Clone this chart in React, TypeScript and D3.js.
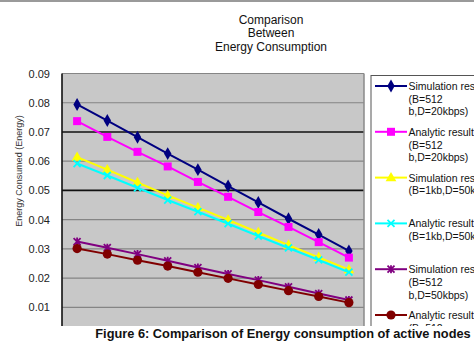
import React from "react";
import * as d3 from "d3";

const categories = ["1", "2", "3", "4", "5", "6", "7", "8", "9", "10"];
const simB512D20 = [0.0794, 0.0739, 0.0682, 0.0626, 0.0571, 0.0515, 0.0459, 0.0403, 0.0349, 0.0293];
const anaB512D20 = [0.0737, 0.0683, 0.0632, 0.0582, 0.0529, 0.0478, 0.0426, 0.0375, 0.0323, 0.027];
const simB1kD50 = [0.0614, 0.0571, 0.0527, 0.0483, 0.0441, 0.0399, 0.0356, 0.0313, 0.0271, 0.0229];
const anaB1kD50 = [0.0592, 0.0551, 0.0509, 0.0467, 0.0427, 0.0386, 0.0344, 0.0303, 0.0262, 0.022];
const simB512D50 = [0.0325, 0.0304, 0.0282, 0.0259, 0.0236, 0.0214, 0.0193, 0.017, 0.0147, 0.0125];
const anaB512D50 = [0.0301, 0.0282, 0.0261, 0.0241, 0.022, 0.0199, 0.0178, 0.0157, 0.0137, 0.0116];
const yTicks = [0.01, 0.02, 0.03, 0.04, 0.05, 0.06, 0.07, 0.08, 0.09];
const darkGrid = [0.05, 0.07];
const titleLines = ["Comparison", "Between", "Energy Consumption"];
const yLabel = "Energy Consumed (Energy)";
const caption = "Figure 6: Comparison of Energy consumption of active nodes";

const series = [
  { values: simB512D20, color: "#000080", marker: "diamond", label: ["Simulation result", "(B=512", "b,D=20kbps)"] },
  { values: anaB512D20, color: "#ff00ff", marker: "square", label: ["Analytic result", "(B=512", "b,D=20kbps)"] },
  { values: simB1kD50, color: "#ffff00", marker: "triangle", label: ["Simulation result", "(B=1kb,D=50kbps)"] },
  { values: anaB1kD50, color: "#00ffff", marker: "x", label: ["Analytic result", "(B=1kb,D=50kbps)"] },
  { values: simB512D50, color: "#800080", marker: "star", label: ["Simulation result", "(B=512", "b,D=50kbps)"] },
  { values: anaB512D50, color: "#800000", marker: "circle", label: ["Analytic result", "(B=512", "b,D=50kbps)"] },
];

const L = 62, R = 364, T = 73.5, B = 326;
const FONT = "Arial, 'Liberation Sans', sans-serif";

function Marker({ type, color, x, y }: { type: string; color: string; x: number; y: number }) {
  if (type === "diamond") return <path d={d3.symbol(d3.symbolDiamond, 48)()!} transform={`translate(${x},${y})`} fill={color} />;
  if (type === "square") return <path d={d3.symbol(d3.symbolSquare, 64)()!} transform={`translate(${x},${y})`} fill={color} />;
  if (type === "triangle") return <path d={d3.symbol(d3.symbolTriangle, 50)()!} transform={`translate(${x},${y + 0.5})`} fill={color} />;
  if (type === "circle") return <circle cx={x} cy={y} r={4.6} fill={color} />;
  const s = 3.5;
  if (type === "x")
    return (
      <path d={`M${x - s},${y - s}L${x + s},${y + s}M${x - s},${y + s}L${x + s},${y - s}`} stroke={color} strokeWidth={1.8} />
    );
  return (
    <path
      d={`M${x - s},${y - s}L${x + s},${y + s}M${x - s},${y + s}L${x + s},${y - s}M${x},${y - s - 0.5}L${x},${y + s + 0.5}`}
      stroke={color}
      strokeWidth={1.8}
    />
  );
}

export default function App() {
  const x = d3.scaleBand().domain(categories).range([L, R]);
  const y = d3.scaleLinear().domain([0.01, 0.09]).range([307.3, T]);
  const line = d3
    .line<number>()
    .x((_, i) => x(categories[i])! + x.bandwidth() / 2)
    .y((v) => y(v));

  const legX = 371, legY = 75.5, legStep = 45.8, legFirst = 86;

  return (
    <svg width={474} height={348} style={{ position: "fixed", left: 0, top: 0, background: "#fff" }} fontFamily={FONT}>
      <defs>
        <clipPath id="legclip">
          <rect x={0} y={0} width={474} height={B} />
        </clipPath>
      </defs>
      <rect x={0} y={0} width={474} height={348} fill="#fff" />
      <rect x={0} y={0} width={474} height={2} fill="#9a9a9a" />
      {titleLines.map((t, i) => (
        <text key={t} x={271} y={24 + i * 13.3} fontSize={12} textAnchor="middle" fill="#111">
          {t}
        </text>
      ))}
      <rect x={L} y={T} width={R - L} height={B - T + 5} fill="#c8c8c8" />
      {yTicks.map((t) => (
        <line
          key={t}
          x1={L}
          x2={R}
          y1={y(t)}
          y2={y(t)}
          stroke={darkGrid.includes(t) ? "#111" : "#858585"}
          strokeWidth={darkGrid.includes(t) ? 1.6 : 1.2}
        />
      ))}
      <line x1={R} x2={R} y1={T} y2={B + 5} stroke="#8a8a8a" strokeWidth={1.5} />
      <line x1={L} x2={L} y1={T} y2={B + 5} stroke="#111" strokeWidth={1.6} />
      {yTicks.map((t) => (
        <text key={"l" + t} x={50} y={y(t) + 4} fontSize={11} textAnchor="end" fill="#222">
          {t.toFixed(2)}
        </text>
      ))}
      <text transform={`translate(22,171) rotate(-90)`} fontSize={9} textAnchor="middle" fill="#333">
        {yLabel}
      </text>
      {series.map((s, si) => (
        <g key={si}>
          <path d={line(s.values)!} fill="none" stroke={s.color} strokeWidth={2} />
          {s.values.map((v, i) => (
            <Marker key={i} type={s.marker} color={s.color} x={x(categories[i])! + x.bandwidth() / 2} y={y(v)} />
          ))}
        </g>
      ))}
      <g clipPath="url(#legclip)">
        <rect x={legX} y={legY} width={120} height={280} fill="#fff" stroke="#555" strokeWidth={1} />
        {series.map((s, si) => {
          const cy = legFirst + si * legStep;
          return (
            <g key={"leg" + si}>
              <line x1={375} x2={407} y1={cy} y2={cy} stroke={s.color} strokeWidth={2} />
              <Marker type={s.marker} color={s.color} x={391} y={cy} />
              {s.label.map((t, j) => (
                <text key={j} x={408.5} y={cy + 4 + j * 12.7} fontSize={10.5} fill="#111">
                  {t}
                </text>
              ))}
            </g>
          );
        })}
      </g>
      <rect x={0} y={B} width={474} height={348 - B} fill="#fff" />
      <text x={283} y={338} fontSize={12.8} fontWeight="bold" textAnchor="middle" fill="#111">
        {caption}
      </text>
    </svg>
  );
}
